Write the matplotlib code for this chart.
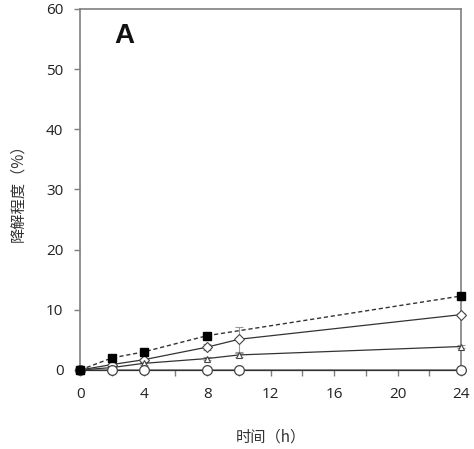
import numpy as np
import matplotlib
matplotlib.use("Agg")
import matplotlib.pyplot as plt
from matplotlib.ticker import MultipleLocator

plt.rcParams['font.family'] = ['Open Sans', 'Noto Sans CJK SC', 'DejaVu Sans']

# time points (h)
t_sq = [0, 2, 4, 8, 24]
deg_filled_sq = [0.0, 2.0, 3.0, 5.7, 12.3]

t_dia = [0, 2, 4, 8, 10, 24]
deg_diamond = [0.0, 0.9, 1.7, 3.8, 5.1, 9.2]
err_diamond = [0.0, 0.2, 0.3, 0.5, 2.1, 0.3]

t_tri = [0, 2, 4, 8, 10, 24]
deg_triangle = [0.0, 0.4, 1.1, 1.9, 2.5, 3.9]
err_triangle = [0.0, 0.1, 0.2, 0.2, 0.4, 0.2]

t_circ = [0, 2, 4, 8, 10, 24]
deg_circle = [0.0, 0.0, 0.0, 0.0, 0.0, 0.0]

fig = plt.figure(figsize=(4.74, 4.49), dpi=100)
ax = fig.add_axes([0.169, 0.176, 0.804, 0.804])

spine_col = "#7f7f7f"
for t, d, e, m in [(t_dia, deg_diamond, err_diamond, "D"),
                   (t_tri, deg_triangle, err_triangle, "^")]:
    cont = ax.errorbar(t, d, yerr=e, color="#333333", ecolor="#999999",
                       elinewidth=0.8, capsize=3, lw=0.9, marker=m, ms=5, mfc="white",
                       mec="#444444", mew=0.8, zorder=3)
    for art in cont.get_children():
        art.set_clip_on(False)
ax.plot(t_circ, deg_circle, color="#333333", lw=0.9, marker="o", ms=7,
        mfc="white", mec="#444444", mew=0.9, zorder=4, clip_on=False)
ax.plot(t_sq, deg_filled_sq, color="#333333", lw=1.0, ls=(0, (3, 2)), marker="s",
        ms=6, mfc="black", mec="black", zorder=5, clip_on=False)

ax.set_xlim(0, 24)
ax.set_ylim(0, 60)
ax.xaxis.set_major_locator(MultipleLocator(4))
ax.xaxis.set_minor_locator(MultipleLocator(2))
ax.yaxis.set_major_locator(MultipleLocator(10))

for s in ax.spines.values():
    s.set_color(spine_col)
    s.set_linewidth(1.2)
ax.tick_params(axis="both", which="both", direction="out", color=spine_col,
               labelsize=11, labelcolor="#222222")
ax.tick_params(axis="both", which="major", length=4, width=1)
ax.tick_params(axis="x", which="minor", length=4, width=1)
ax.tick_params(axis="x", pad=8)
ax.tick_params(axis="y", pad=8)

ax.text(0.09, 0.905, "A", transform=ax.transAxes, fontsize=20, fontweight="bold",
        family=["Liberation Sans", "DejaVu Sans"], color="#111111")

ax.set_xlabel("时间（h）", fontsize=11, family=["Noto Sans CJK SC", "DejaVu Sans"],
              labelpad=19, color="#333333")
ax.set_ylabel("降解程度（%）", fontsize=11, family=["Noto Sans CJK SC", "DejaVu Sans"],
              labelpad=14, color="#333333")

fig.savefig("out.png", dpi=100)
